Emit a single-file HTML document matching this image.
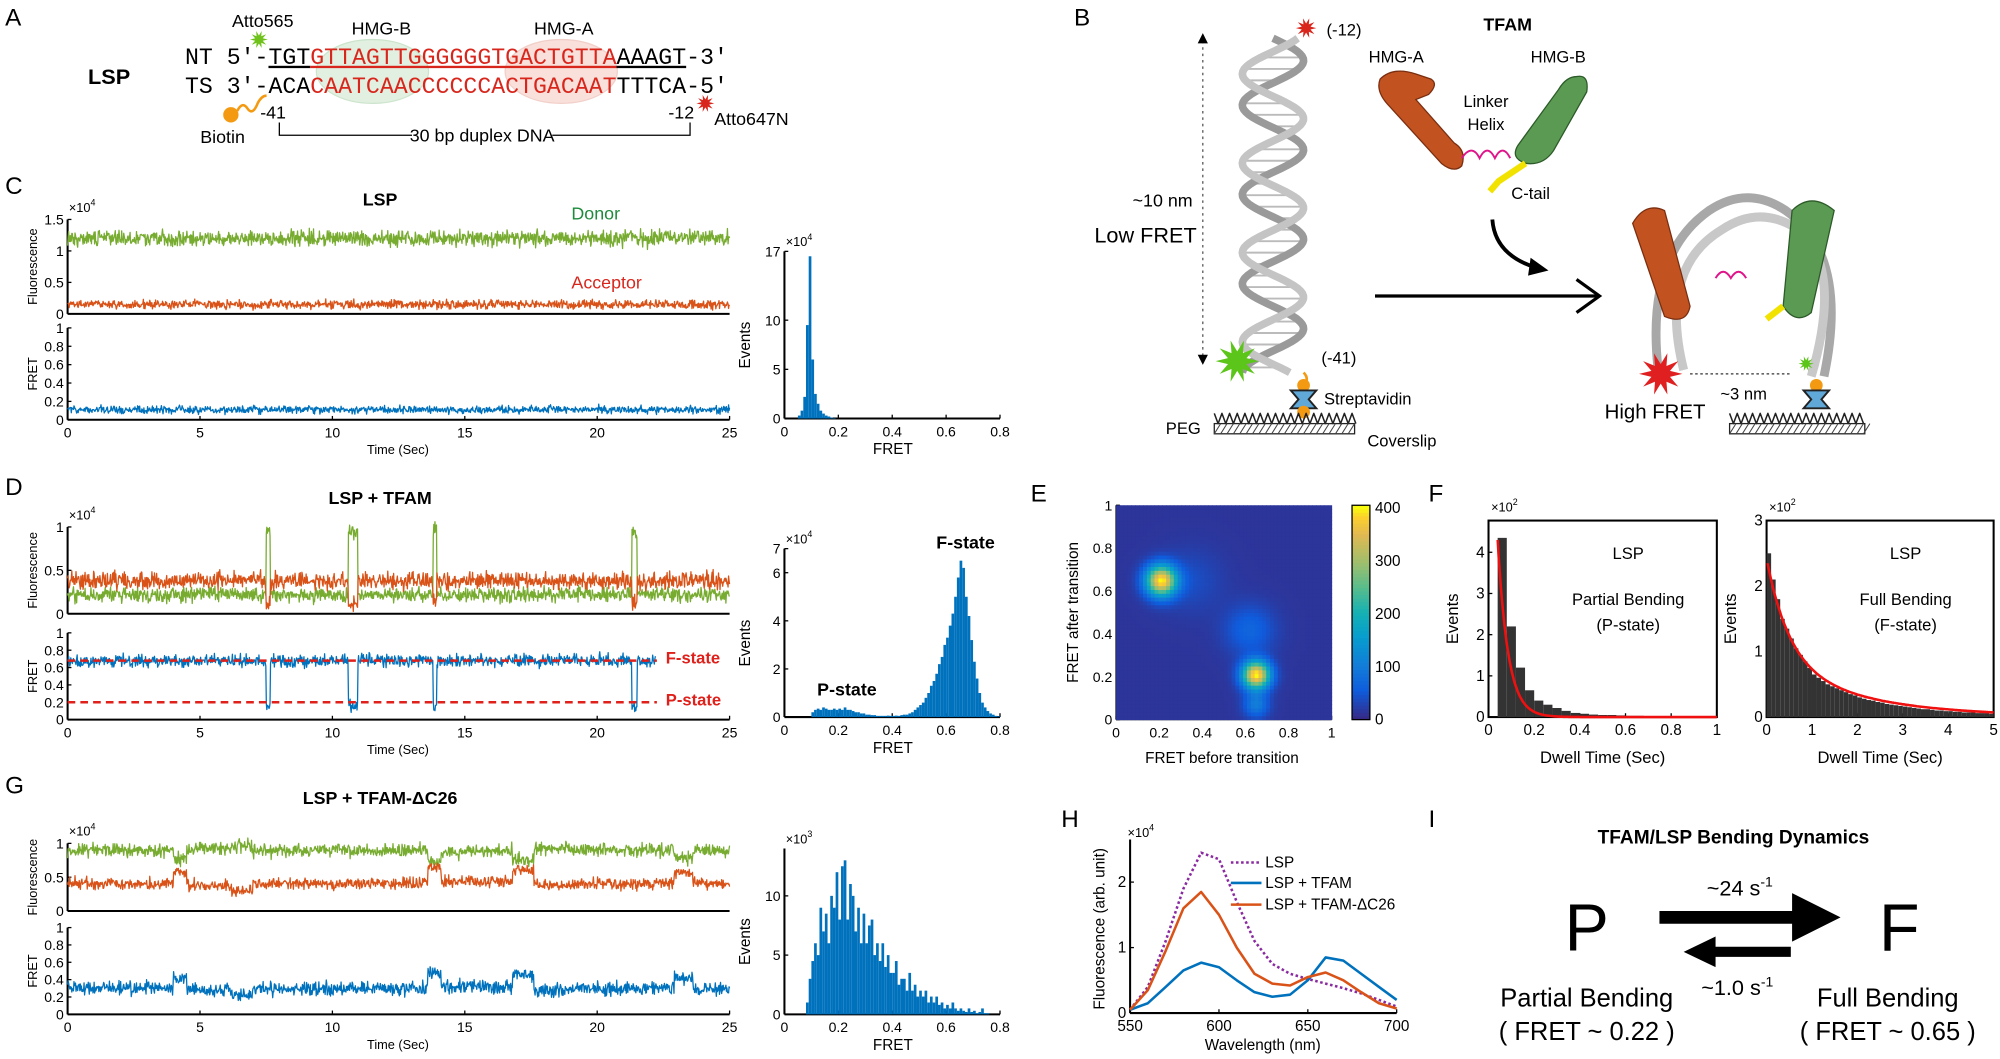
<!DOCTYPE html>
<html><head><meta charset="utf-8">
<style>
html,body{margin:0;padding:0;background:#fff;}
svg{display:block;font-family:"Liberation Sans Narrow","Liberation Sans",sans-serif;}
.mono{font-family:"Liberation Mono",monospace;}
</style></head>
<body>
<svg id="fig" width="2000" height="1059" viewBox="0 0 1568 830" preserveAspectRatio="none" xmlns="http://www.w3.org/2000/svg">
<!-- Panel A -->
<g>
<text x="4" y="20" font-size="19">A</text>
<text x="69" y="66" font-size="17" font-weight="bold">LSP</text>
<ellipse cx="292" cy="56" rx="44" ry="25" fill="#d9ecd9" opacity="0.75" stroke="#bcdcbc"/>
<ellipse cx="440" cy="56" rx="44" ry="25" fill="#f7d6d0" opacity="0.75" stroke="#eec0b8"/>
<text x="299" y="27" font-size="14" text-anchor="middle">HMG-B</text>
<text x="442" y="27" font-size="14" text-anchor="middle">HMG-A</text>
<text x="206" y="21" font-size="14" text-anchor="middle">Atto565</text>
<text x="145" y="50" font-size="18.2" class="mono">NT 5′-<tspan text-decoration="underline">TGT</tspan><tspan fill="#d8261c" text-decoration="underline">GTTAGTTGGGGGGTGACTGTTA</tspan><tspan text-decoration="underline">AAAGT</tspan>-3′</text>
<text x="145" y="73" font-size="18.2" class="mono">TS 3′-ACA<tspan fill="#d8261c">CAATCAACCCCCCACTGACAAT</tspan>TTTCA-5′</text>
<circle cx="181" cy="90" r="6" fill="#f39a12"/>
<path d="M186,87 q4,-8 8,-2 q4,6 8,-4 q3,-6 7,-6" stroke="#f39a12" stroke-width="2" fill="none"/>
<text x="157" y="112" font-size="14">Biotin</text>
<text x="204" y="93" font-size="14">-41</text>
<text x="524" y="93" font-size="14">-12</text>
<text x="560" y="98" font-size="14">Atto647N</text>
<polyline points="219,96 219,106 541,106 541,96" fill="none" stroke="#000" stroke-width="1"/>
<rect x="323" y="98" width="110" height="14" fill="#fff"/>
<text x="378" y="111" font-size="14" text-anchor="middle">30 bp duplex DNA</text>
</g>
<g id="dyn"></g>
</svg>
<script>
const NS='http://www.w3.org/2000/svg';
const root=document.getElementById('dyn');
function mk(tag,attrs,parent,name){
  const e=document.createElementNS(NS,tag);
  for(const k in attrs) e.setAttribute(k,attrs[k]);
  
  
  (parent||root).appendChild(e);
  return e;
}
function txt(x,y,s,size,name,extra,parent){
  const a=Object.assign({x:x,y:y,'font-size':size},extra||{});
  const e=mk('text',a,parent,name);
  e.textContent=s;
  return e;
}
function star(cx,cy,r,col,name){
  let p='';
  for(let i=0;i<20;i++){const rr=i%2?r*0.45:r;const a=i*Math.PI/10;p+=(cx+rr*Math.cos(a))+','+(cy+rr*Math.sin(a))+' ';}
  mk('polygon',{points:p,fill:col},null,name);
}
star(203,31,7,'#6fc21c','atto565-star');
star(553,81,7,'#d8261c','atto647n-star');

// ===== DATA =====
const tracePoints=1250;
const cDonorLevel=[1.2], cAcceptorLevel=[0.15], cFretLevel=[0.11];
const dEventTimes=[7.5,10.6,13.8,21.3];
const dEventDur=[0.15,0.35,0.15,0.2];
const dBase=[0.22,0.38,0.68]; // donor, acceptor, fret
const dEvent=[0.95,0.12,0.15];
const dFretEnd=[22.2];
const gSegT=[0,4,4.5,6.2,7,13.6,14.1,16.8,17.6,19.2,22.9,23.6];
const gSegF=[0.3,0.42,0.28,0.22,0.3,0.48,0.32,0.45,0.28,0.3,0.42,0.3];
const histC=[0.3,0.8,2.2,9.5,16.5,6,2.5,1.5,0.8,0.5,0.3,0.2,0.1,0.05];
const histCStart=0.05;
const histD=[0.2,0.3,0.35,0.3,0.4,0.35,0.3,0.3,0.35,0.3,0.35,0.3,0.4,0.3,0.3,0.25,0.2,0.2,0.15,0.15,0.1,0.1,0.08,0.08,0.05,0.05,0.05,0.05,0.06,0.05,0.05,0.06,0.05,0.08,0.1,0.1,0.15,0.2,0.3,0.4,0.5,0.6,0.8,1.0,1.3,1.5,1.8,2.2,2.5,3.0,3.3,3.8,4.3,5.0,5.8,6.5,6.2,5.0,4.2,3.2,2.3,1.6,1.0,0.6,0.4,0.25,0.15,0.1,0.05,0.03];
const histDStart=0.10;
const histG=[1,3,4.5,6,5,9,7,8.5,6,10,9,12,8,12.5,13,8,11,10,7,9,6,8.5,6,7.5,8,5,6,4.5,6,4,5,3.5,3.5,4.5,2.5,3,3,2,3.5,2,2.5,1.5,2,1.5,2,1,1.5,1,1.5,0.8,1,0.5,0.8,0.5,1,0.5,0.3,0.5,0.3,0.2,0.5,0.2,0.3,0.1,0.2,0.5,0.1,0.1];
const histGStart=0.08;
const heatPkX=[0.21,0.65,0.65,0.62,0.35];
const heatPkY=[0.65,0.21,0.07,0.42,0.65];
const heatPkA=[390,400,90,55,25];
const heatPkS=[0.05,0.045,0.04,0.08,0.1];
const dwellP=[4.35,2.2,1.2,0.65,0.4,0.3,0.22,0.15,0.1,0.08,0.06,0.05,0.05,0.04,0.03,0.03,0.02,0.02,0.02,0.01,0.01,0.01,0.01,0.01];
const dwellPStart=0.04, dwellPWidth=0.04;
const dwellF=[2.5,2.1,1.8,1.5,1.35,1.2,1.05,0.95,0.85,0.75,0.65,0.6,0.55,0.5,0.47,0.44,0.41,0.38,0.35,0.33,0.3,0.28,0.26,0.25,0.23,0.22,0.2,0.19,0.18,0.17,0.16,0.15,0.14,0.13,0.12,0.12,0.11,0.1,0.1,0.09,0.09,0.08,0.08,0.07,0.07,0.07,0.06,0.06,0.06,0.05];
const dwellFWidth=0.1;
const fitPA=[4.3], fitPK=[22];
const fitFA=[1.5,0.85], fitFK=[2,0.5];
const waveNm=[550,560,570,580,590,600,610,620,630,640,650,660,670,680,690,700];
const specLSP=[0.05,0.4,1.1,1.9,2.45,2.35,1.7,1.1,0.75,0.6,0.52,0.45,0.38,0.3,0.2,0.1];
const specTFAM=[0.05,0.15,0.4,0.65,0.77,0.7,0.5,0.32,0.25,0.28,0.5,0.85,0.8,0.6,0.4,0.2];
const specDC26=[0.05,0.35,0.95,1.6,1.85,1.5,1.0,0.6,0.45,0.42,0.55,0.62,0.5,0.32,0.15,0.07];

// ===== helpers =====
let seed=12345;
function rnd(){seed=(seed*1664525+1013904223)%4294967296;return seed/4294967296;}
function gn(){return (rnd()+rnd()+rnd()-1.5)*1.4;}
function lin(d0,d1,p0,p1){return v=>p0+(v-d0)/(d1-d0)*(p1-p0);}
function axes(x0,x1,y0,y1,xt,yt,xfmt,yfmt,name,opts){
  opts=opts||{};
  const g=mk('g',{},null,name);
  const sx=lin(xt.d[0],xt.d[1],x0,x1), sy=lin(yt.d[0],yt.d[1],y0,y1);
  const lw=opts.lw||1.6;
  if(opts.box) mk('rect',{x:x0,y:y1,width:x1-x0,height:y0-y1,fill:'none',stroke:'#000','stroke-width':lw},g,name+'-box');
  else {
    mk('line',{x1:x0,y1:y0,x2:x1,y2:y0,stroke:'#000','stroke-width':lw},g,name+'-x-axis');
    mk('line',{x1:x0,y1:y0,x2:x0,y2:y1,stroke:'#000','stroke-width':lw},g,name+'-y-axis');
  }
  if(xt.v) xt.v.forEach(v=>{const x=sx(v);
    mk('line',{x1:x,y1:y0,x2:x,y2:y0-3,stroke:'#000','stroke-width':1},g,name+'-x-tick');
    txt(x,y0+14,xfmt(v),opts.fs||11,name+'-x-tick-label',{'text-anchor':'middle'},g);});
  if(yt.v) yt.v.forEach(v=>{const y=sy(v);
    mk('line',{x1:x0,y1:y,x2:x0+3,y2:y,stroke:'#000','stroke-width':1},g,name+'-y-tick');
    txt(x0-3,y+4,yfmt(v),opts.fs||11,name+'-y-tick-label',{'text-anchor':'end'},g);});
  return {sx:sx,sy:sy,g:g};
}
const f0=v=>String(v);
function rotLabel(x,y,s,size,name){return txt(x,y,s,size,name,{'text-anchor':'middle',transform:'rotate(-90 '+x+' '+y+')','font-family':'Liberation Sans,sans-serif'});}
function exp10(x,y,p,name){const t=txt(x,y,'×10',10,name);const s=document.createElementNS(NS,'tspan');s.setAttribute('dy','-5');s.setAttribute('font-size','7');s.textContent=p;t.appendChild(s);}
function poly(pts,col,w,name,extra){return mk('polyline',Object.assign({points:pts.map(p=>p[0].toFixed(1)+','+p[1].toFixed(1)).join(' '),fill:'none',stroke:col,'stroke-width':w,'stroke-linejoin':'round'},extra||{}),null,name);}
function bars(arr,start,w,ax,col,name){arr.forEach((v,i)=>{const xa=ax.sx(start+i*w),xb=ax.sx(start+(i+1)*w);const y=ax.sy(v),y0=ax.sy(0);
  mk('rect',{x:xa,y:y,width:Math.max(0.5,xb-xa),height:Math.max(0,y0-y),fill:col},null,name);});}
const BLUE='#0072bd',ORANGE='#d95319',GREEN='#77ac30';
const timeTicks=[0,5,10,15,20,25];

// ===== Panel labels =====
[['B',842,20],['C',4,152],['D',4,388],['E',808,393],['F',1120,393],['G',4,622],['H',832,648],['I',1120,648]].forEach(l=>txt(l[1],l[2],l[0],19,'panel-label-'+l[0].toLowerCase()));

// ===== trace panel builder =====
function tracePanel(tag,title,tyTitle,fl,fr,fluorTicks,levels,donorSd,accSd,fretSd,fluorMax,fretEnd){
  txt(298,tyTitle,title,14,tag+'-title',{'text-anchor':'middle','font-weight':'bold','font-family':'Liberation Sans,sans-serif'});
  const A=axes(53,572,fl[0],fl[1],{d:[0,25]},{d:[0,fluorMax],v:fluorTicks},f0,f0,tag+'-fluor-axes');
  exp10(54,fl[1]-6,'4',tag+'-fluor-exponent');
  rotLabel(29,(fl[0]+fl[1])/2,'Fluorescence',10,tag+'-fluor-y-title');
  const B=axes(53,572,fr[0],fr[1],{d:[0,25],v:timeTicks},{d:[0,1],v:[0,0.2,0.4,0.6,0.8,1]},f0,f0,tag+'-fret-axes');
  rotLabel(29,(fr[0]+fr[1])/2,'FRET',10,tag+'-fret-y-title');
  txt(312,fr[0]+27,'Time (Sec)',10,tag+'-x-title',{'text-anchor':'middle','font-family':'Liberation Sans,sans-serif'});
  const don=[],acc=[],fr2=[];
  for(let i=0;i<tracePoints;i++){const t=i*25/(tracePoints-1);const L=levels(t);
    don.push([A.sx(t),A.sy(Math.max(0,L[0]+gn()*donorSd))]);
    acc.push([A.sx(t),A.sy(Math.max(0,L[1]+gn()*accSd))]);
    const fv=[B.sx(t),B.sy(Math.max(0,Math.min(1,L[2]+gn()*fretSd)))];
    if(t<=(fretEnd||25)) fr2.push(fv);}
  poly(don,GREEN,1,tag+'-donor-trace');
  poly(acc,ORANGE,1,tag+'-acceptor-trace');
  poly(fr2,BLUE,1,tag+'-fret-trace');
  return {A:A,B:B};
}
// C
tracePanel('c','LSP',161,[246,172],[329,257],[0,0.5,1,1.5],t=>[cDonorLevel[0],cAcceptorLevel[0],cFretLevel[0]],0.09,0.05,0.03,1.5);
txt(448,172,'Donor',14,'donor-label',{fill:'#1e8a3c'});
txt(448,226,'Acceptor',14,'acceptor-label',{fill:'#d8261c'});
// D
const dP=tracePanel('d','LSP + TFAM',395,[481,413],[564,496],[0,0.5,1],t=>{
  for(let k=0;k<dEventTimes.length;k++){if(t>=dEventTimes[k]&&t<dEventTimes[k]+dEventDur[k])return dEvent.slice();}
  return dBase.slice();},0.06,0.07,0.05,1,dFretEnd[0]);
[[0.68,'F-state',520],[0.2,'P-state',553]].forEach(s=>{const y=dP.B.sy(s[0]);
  mk('line',{x1:53,y1:y,x2:515,y2:y,stroke:'#e0201a','stroke-width':2,'stroke-dasharray':'6,4'},null,'dashed-'+s[1].toLowerCase());
  txt(522,s[2],s[1],13,'trace-'+s[1].toLowerCase()+'-label',{fill:'#e0201a','font-weight':'bold','font-family':'Liberation Sans,sans-serif'});});
// G
tracePanel('g','LSP + TFAM-ΔC26',630,[714,661],[795,727],[0,0.5,1],t=>{
  let f=gSegF[0];for(let k=0;k<gSegT.length;k++){if(t>=gSegT[k])f=gSegF[k];}
  return [1.2-f*1.0,f*1.35,f];},0.07,0.06,0.055,1);

// ===== histograms =====
function histPanel(tag,arr,start,yb,ytop,ymax,yTicks,pw){
  const ax=axes(615,784,yb,ytop,{d:[0,0.8],v:[0,0.2,0.4,0.6,0.8]},{d:[0,ymax],v:yTicks},f0,f0,tag+'-hist-axes');
  bars(arr,start,0.01,ax,BLUE,tag+'-hist-bar');
  exp10(616,ytop-4,pw,tag+'-hist-exponent');
  rotLabel(588,(yb+ytop)/2+8,'Events',12,tag+'-hist-y-title');
  txt(700,yb+28,'FRET',12,tag+'-hist-x-title',{'text-anchor':'middle'});
  return ax;
}
histPanel('c',histC,histCStart,328,197,17,[0,5,10,17],'4');
histPanel('d',histD,histDStart,562,430,7,[0,2,4,6,7],'4');
txt(757,430,'F-state',14,'hist-f-state-label',{'text-anchor':'middle','font-weight':'bold','font-family':'Liberation Sans,sans-serif'});
txt(664,545,'P-state',14,'hist-p-state-label',{'text-anchor':'middle','font-weight':'bold','font-family':'Liberation Sans,sans-serif'});
histPanel('g',histG,histGStart,795,665,14,[0,5,10],'3');

// ===== E heatmap =====
const pstops=[[0,[53,42,135]],[0.13,[15,92,221]],[0.25,[18,125,216]],[0.38,[7,156,207]],[0.5,[21,177,180]],[0.62,[89,189,140]],[0.75,[165,190,106]],[0.87,[225,185,82]],[0.95,[252,206,46]],[1,[249,251,14]]];
function parula(v){v=Math.max(0,Math.min(1,v));for(let i=1;i<pstops.length;i++){if(v<=pstops[i][0]){const a=pstops[i-1],b=pstops[i];const t=(v-a[0])/(b[0]-a[0]);
  return 'rgb('+a[1].map((c,j)=>Math.round(c+(b[1][j]-c)*t)).join(',')+')';}}return 'rgb(249,251,14)';}
const E=axes(875,1044,564,396,{d:[0,1],v:[0,0.2,0.4,0.6,0.8,1]},{d:[0,1],v:[0,0.2,0.4,0.6,0.8,1]},f0,f0,'e-axes',{lw:1});
const NG=56;
for(let i=0;i<NG;i++)for(let j=0;j<NG;j++){const x=(i+0.5)/NG,y=(j+0.5)/NG;let v=12;
  for(let k=0;k<heatPkX.length;k++){const dx=x-heatPkX[k],dy=y-heatPkY[k];v+=heatPkA[k]*Math.exp(-(dx*dx+dy*dy)/(2*heatPkS[k]*heatPkS[k]));}
  mk('rect',{x:E.sx(i/NG),y:E.sy((j+1)/NG),width:169/NG+0.4,height:168/NG+0.4,fill:parula(v/410)},E.g,'heatmap-cell');}
rotLabel(845,480,'FRET after transition',12,'e-y-title');
txt(958,598,'FRET before transition',12,'e-x-title',{'text-anchor':'middle'});
const cb=mk('g',{},null,'colorbar');
for(let k=0;k<60;k++){mk('rect',{x:1060,y:564-(k+1)*168/60,width:14,height:168/60+0.4,fill:parula(k/59)},cb,'colorbar-cell');}
mk('rect',{x:1060,y:396,width:14,height:168,fill:'none',stroke:'#000','stroke-width':1},cb,'colorbar-border');
[0,100,200,300,400].forEach(v=>{const y=564-v/405*168;txt(1078,y+4,String(v),12,'colorbar-tick-label',{},cb);});

// ===== F dwell histograms =====
function dwellPanel(tag,x0,x1,xmax,xt,ymax,yt,arr,start,w,fa,fk,tstart,l2,l3){
  const ax=axes(x0,x1,562,408,{d:[0,xmax],v:xt},{d:[0,ymax],v:yt},f0,f0,tag+'-axes',{box:true,fs:12});
  bars(arr,start,w,ax,'#333',tag+'-bar');
  const pts=[];for(let i=0;i<=200;i++){const t=tstart+(xmax-tstart)*i/200;let y=0;for(let k=0;k<fa.length;k++)y+=fa[k]*Math.exp(-fk[k]*(t-tstart));pts.push([ax.sx(t),ax.sy(Math.min(y,ymax))]);}
  poly(pts,'#f01010',2,tag+'-fit-curve');
  exp10(x0+2,401,'2',tag+'-exponent');
  rotLabel(x0-24,485,'Events',13,tag+'-y-title');
  txt((x0+x1)/2,598,'Dwell Time (Sec)',13,tag+'-x-title',{'text-anchor':'middle'});
  const cx=(x0+x1)/2+20;
  txt(cx,438,'LSP',13,tag+'-lsp-label',{'text-anchor':'middle'});
  txt(cx,474,l2,13,tag+'-state-label',{'text-anchor':'middle'});
  txt(cx,494,l3,13,tag+'-state-name',{'text-anchor':'middle'});
}
dwellPanel('f-partial',1167,1346,1,[0,0.2,0.4,0.6,0.8,1],4.77,[0,1,2,3,4],dwellP,dwellPStart,dwellPWidth,fitPA,fitPK,0.04,'Partial Bending','(P-state)');
dwellPanel('f-full',1385,1563,5,[0,1,2,3,4,5],3,[0,1,2,3],dwellF,0,dwellFWidth,fitFA,fitFK,0.02,'Full Bending','(F-state)');

// ===== H spectra =====
const H=axes(886,1095,794,658,{d:[550,700],v:[550,600,650,700]},{d:[0,2.65],v:[0,1,2]},f0,f0,'h-axes',{fs:12});
exp10(884,656,'4','h-exponent');
rotLabel(866,728,'Fluorescence (arb. unit)',12,'h-y-title');
txt(990,823,'Wavelength (nm)',12,'h-x-title',{'text-anchor':'middle'});
poly(waveNm.map((w,i)=>[H.sx(w),H.sy(specLSP[i])]),'#8a2aa0',2,'spectrum-lsp',{'stroke-dasharray':'2,2'});
poly(waveNm.map((w,i)=>[H.sx(w),H.sy(specTFAM[i])]),BLUE,2,'spectrum-tfam');
poly(waveNm.map((w,i)=>[H.sx(w),H.sy(specDC26[i])]),ORANGE,2,'spectrum-dc26');
[['LSP','#8a2aa0',680,true],['LSP + TFAM',BLUE,696,false],['LSP + TFAM-ΔC26',ORANGE,713,false]].forEach(l=>{
  const a={x1:965,y1:l[2]-4,x2:989,y2:l[2]-4,stroke:l[1],'stroke-width':2};if(l[3])a['stroke-dasharray']='2,2';
  mk('line',a,null,'legend-line');txt(992,l[2],l[0],12,'legend-entry');});

// ===== I scheme =====
txt(1359,661,'TFAM/LSP Bending Dynamics',15,'i-title',{'text-anchor':'middle','font-weight':'bold','font-family':'Liberation Sans,sans-serif'});
txt(1244,745,'P',52,'p-state-symbol',{'text-anchor':'middle'});
txt(1489,745,'F',52,'f-state-symbol',{'text-anchor':'middle'});
mk('polygon',{points:'1301,714 1405,714 1405,700 1443,719 1405,738 1405,724 1301,724'},null,'forward-arrow');
mk('polygon',{points:'1404,742 1345,742 1345,734 1320,746 1345,758 1345,750 1404,750'},null,'reverse-arrow');
const r1=txt(1364,702,'~24 s',17,'forward-rate',{'text-anchor':'middle'});const s1=document.createElementNS(NS,'tspan');s1.setAttribute('dy','-7');s1.setAttribute('font-size','11');s1.textContent='-1';r1.appendChild(s1);
const r2=txt(1362,780,'~1.0 s',17,'reverse-rate',{'text-anchor':'middle'});const s2=document.createElementNS(NS,'tspan');s2.setAttribute('dy','-7');s2.setAttribute('font-size','11');s2.textContent='-1';r2.appendChild(s2);
txt(1244,789,'Partial Bending',20,'partial-bending-label',{'text-anchor':'middle'});
txt(1244,815,'( FRET ~ 0.22 )',20,'partial-fret-label',{'text-anchor':'middle'});
txt(1480,789,'Full Bending',20,'full-bending-label',{'text-anchor':'middle'});
txt(1480,815,'( FRET ~ 0.65 )',20,'full-fret-label',{'text-anchor':'middle'});

// ===== Panel B cartoon =====
function helix(cx,y0,y1,amp,name){const a=[],b=[];for(let y=y0;y<=y1;y+=2){const ph=(y-y0)/70*2*Math.PI;a.push([cx+amp*Math.sin(ph),y]);b.push([cx+amp*Math.sin(ph+2.2),y]);}
  for(let y=y0+6;y<y1;y+=9){const ph=(y-y0)/70*2*Math.PI;mk('line',{x1:cx+amp*Math.sin(ph),y1:y,x2:cx+amp*Math.sin(ph+2.2),y2:y,stroke:'#bbb','stroke-width':1.5},null,name+'-rung');}
  poly(a,'#9a9a9a',6,name+'-strand-1');poly(b,'#c4c4c4',6,name+'-strand-2');}
helix(998,30,292,24,'dna-helix');
mk('line',{x1:943,y1:32,x2:943,y2:280,stroke:'#555','stroke-width':1,'stroke-dasharray':'2,3'},null,'distance-arrow');
mk('polygon',{points:'939,34 943,26 947,34'},null,'distance-arrow-head-top');
mk('polygon',{points:'939,278 943,286 947,278'},null,'distance-arrow-head-bottom');
star(1024,22,8,'#d8261c','b-acceptor-star');
txt(1040,28,'(-12)',13,'b-pos-12');
star(970,283,17,'#5cc51a','b-donor-star');
txt(1036,285,'(-41)',13,'b-pos-41');
txt(888,162,'~10 nm',14,'distance-label');
txt(858,190,'Low FRET',17,'low-fret-label');
mk('path',{d:'M1022,292 q5,5 0,10',stroke:'#f39a12','stroke-width':2,fill:'none'},null,'b-linker');
mk('circle',{cx:1022,cy:302,r:5,fill:'#f39a12'},null,'b-biotin');
mk('path',{d:'M1012,306 L1032,306 L1026,313 L1032,320 L1012,320 L1018,313 Z',fill:'#5fa8d8',stroke:'#222','stroke-width':1.5},null,'streptavidin-icon');
mk('circle',{cx:1022,cy:323,r:5,fill:'#f39a12'},null,'b-biotin-lower');
txt(1038,317,'Streptavidin',13,'streptavidin-label');
function surface(x0,x1,y,name){let p='';for(let x=x0;x<=x1;x+=6)p+=x+','+(y-8)+' '+(x+3)+','+y+' ';poly(p.trim().split(' ').map(s=>s.split(',').map(Number)),'#222',1.2,name+'-brush');
  mk('rect',{x:x0,y:y,width:x1-x0,height:8,fill:'none',stroke:'#222','stroke-width':1},null,name+'-base');
  for(let x=x0;x<x1;x+=5)mk('line',{x1:x,y1:y+8,x2:x+5,y2:y,stroke:'#444','stroke-width':0.8},null,name+'-hatch');}
surface(952,1062,332,'b-surface-left');
txt(914,340,'PEG',13,'peg-label');
txt(1072,350,'Coverslip',13,'coverslip-label');
txt(1163,24,'TFAM',14,'tfam-label',{'font-weight':'bold','font-family':'Liberation Sans,sans-serif'});
txt(1073,49,'HMG-A',13,'b-hmg-a-label');
txt(1200,49,'HMG-B',13,'b-hmg-b-label');
mk('path',{d:'M1082,62 Q1092,52 1110,58 L1122,62 Q1128,66 1120,74 L1110,78 L1140,112 Q1150,118 1146,130 Q1140,136 1130,128 L1090,84 Q1078,72 1082,62 Z',fill:'#c25321',stroke:'#7a2e10'},null,'hmg-a-domain');
mk('path',{d:'M1236,60 Q1246,58 1244,72 L1218,118 Q1210,130 1196,128 Q1184,124 1190,114 L1222,70 Q1228,60 1236,60 Z',fill:'#5a9a52',stroke:'#2c5a28'},null,'hmg-b-domain');
mk('path',{d:'M1146,124 q8,-12 14,0 q6,-12 12,0 q6,-12 12,0',stroke:'#e0148a','stroke-width':1.5,fill:'none'},null,'linker-helix');
mk('path',{d:'M1196,128 L1175,142 L1168,150',stroke:'#f2e200','stroke-width':5,fill:'none'},null,'c-tail');
txt(1165,84,'Linker',13,'linker-label',{'text-anchor':'middle'});
txt(1165,102,'Helix',13,'helix-label',{'text-anchor':'middle'});
txt(1200,156,'C-tail',13,'c-tail-label',{'text-anchor':'middle'});
mk('path',{d:'M1170,172 Q1172,200 1205,210',stroke:'#000','stroke-width':3,fill:'none'},null,'binding-curved-arrow');
mk('polygon',{points:'1200,202 1214,212 1198,216'},null,'binding-arrow-head');
mk('line',{x1:1078,y1:232,x2:1252,y2:232,stroke:'#000','stroke-width':2.5},null,'transition-arrow');
mk('polyline',{points:'1236,219 1254,232 1236,245',stroke:'#000','stroke-width':2.5,fill:'none'},null,'transition-arrow-head');
function bentHelix(path,name,col){mk('path',{d:path,stroke:col,'stroke-width':7,fill:'none'},null,name);}
bentHelix('M1300,290 Q1290,200 1340,165 Q1370,145 1400,165 Q1450,200 1430,295','bent-dna-strand-1','#a8a8a8');
bentHelix('M1320,290 Q1300,210 1350,180 Q1380,160 1410,180 Q1445,210 1420,295','bent-dna-strand-2','#c8c8c8');
mk('path',{d:'M1280,175 Q1290,158 1305,165 L1325,240 Q1322,255 1305,248 Z',fill:'#c25321',stroke:'#7a2e10'},null,'bound-hmg-a');
mk('path',{d:'M1405,165 Q1420,150 1438,165 L1420,245 Q1408,255 1398,240 Z',fill:'#5a9a52',stroke:'#2c5a28'},null,'bound-hmg-b');
mk('path',{d:'M1345,218 q6,-10 12,0 q6,-10 12,0',stroke:'#e0148a','stroke-width':1.5,fill:'none'},null,'bound-linker');
mk('path',{d:'M1398,240 L1385,250',stroke:'#f2e200','stroke-width':5,fill:'none'},null,'bound-c-tail');
star(1302,293,17,'#e02020','high-fret-acceptor-star');
star(1416,285,6,'#5cc51a','high-fret-donor-star');
mk('line',{x1:1325,y1:293,x2:1405,y2:293,stroke:'#333','stroke-width':1,'stroke-dasharray':'2,2'},null,'close-distance-arrow');
txt(1367,313,'~3 nm',13,'close-distance-label',{'text-anchor':'middle'});
txt(1258,328,'High FRET',16,'high-fret-label');
mk('circle',{cx:1424,cy:302,r:5,fill:'#f39a12'},null,'b-biotin-right');
mk('path',{d:'M1414,306 L1434,306 L1428,313 L1434,320 L1414,320 L1420,313 Z',fill:'#5fa8d8',stroke:'#222','stroke-width':1.5},null,'streptavidin-icon-right');
surface(1356,1462,332,'b-surface-right');
</script>
</body></html>
